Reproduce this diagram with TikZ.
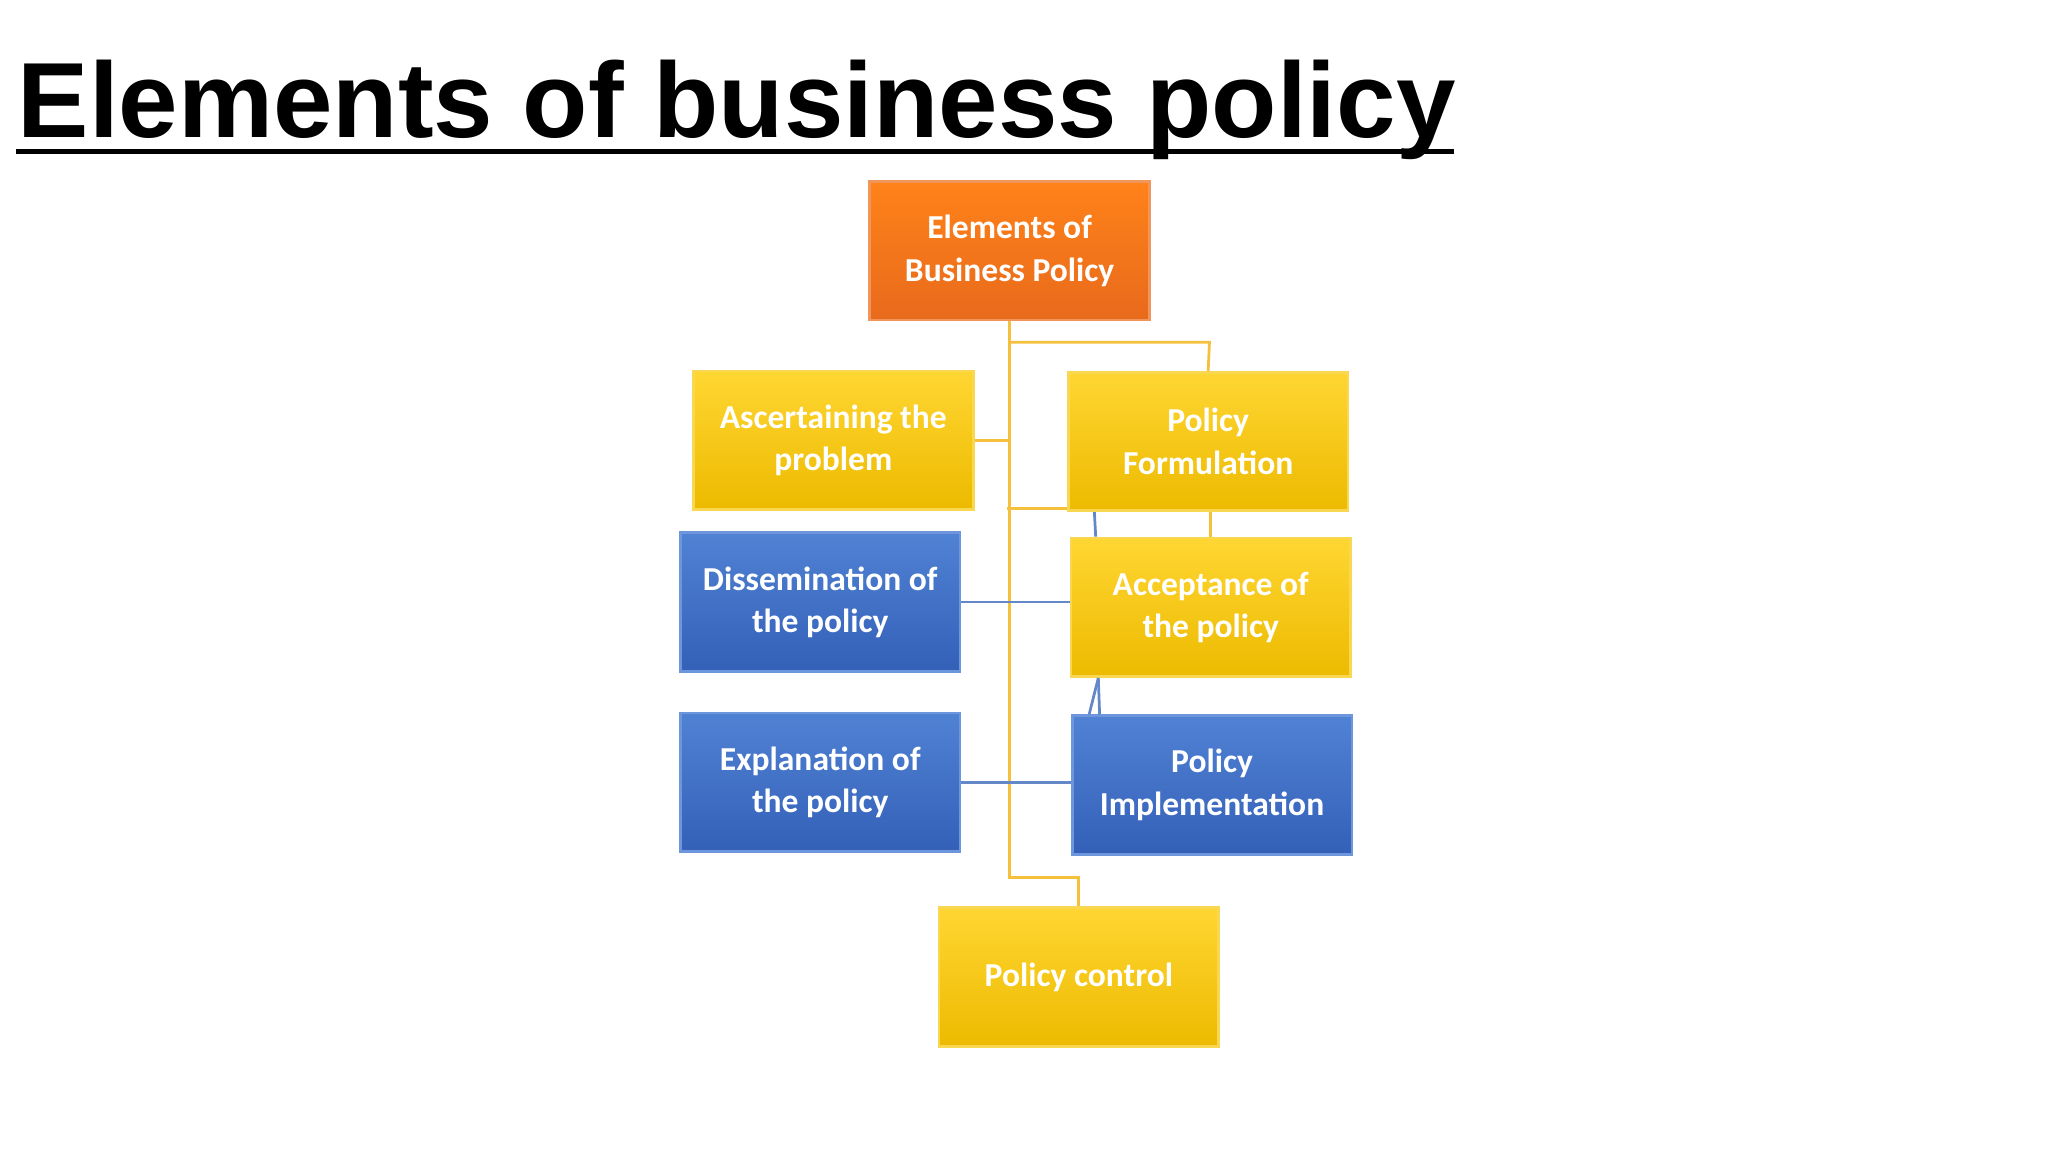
\documentclass[tikz,border=0pt]{standalone}
\usepackage{fontspec}
\setmainfont{Carlito}
\newfontfamily\titlefont{Liberation Sans}
\begin{document}
\begin{tikzpicture}[x=0.01cm,y=-0.01cm,
  box/.style={minimum width=2.14cm,minimum height=1.06cm,inner sep=0pt,align=center,text=white,
    font=\fontsize{7.3}{9.2}\selectfont\bfseries},
  org/.style={box,top color=orange!55!red!20!orange!90!white,bottom color={rgb,255:red,232;green,106;blue,28},draw={rgb,255:red,240;green,150;blue,90},line width=0.6pt},
  yel/.style={box,top color={rgb,255:red,255;green,214;blue,50},bottom color={rgb,255:red,236;green,186;blue,0},draw={rgb,255:red,250;green,215;blue,80},line width=0.6pt},
  blu/.style={box,top color={rgb,255:red,80;green,130;blue,212},bottom color={rgb,255:red,52;green,96;blue,184},draw={rgb,255:red,110;green,150;blue,220},line width=0.6pt},
  yl/.style={draw={rgb,255:red,245;green,192;blue,60},line width=0.6pt},
  bl/.style={draw={rgb,255:red,100;green,135;blue,200},line width=0.6pt}]
\useasboundingbox (0,0) rectangle (1568,882);
\node[anchor=base west,inner sep=0pt] (title) at (13,105) {\resizebox{11cm}{!}{\titlefont\bfseries Elements of business policy}};
\draw[line width=1.1pt] (12,116) -- (1113,116);
% connectors
\coordinate (c1) at (773,262); \coordinate (c2) at (926,262);
\coordinate (c3) at (773,672); \coordinate (c4) at (826,672);
\node[org] (top) at (773,192) {Elements of\\Business Policy};
\node[yel] (asc) at (638,337) {Ascertaining the\\problem};
\node[yel] (form) at (925,338) {Policy\\Formulation};
\node[blu] (dis) at (628,461) {Dissemination of\\the policy};
\node[yel] (acc) at (927,465) {Acceptance of\\the policy};
\node[blu] (exp) at (628,599) {Explanation of\\the policy};
\node[blu] (impl) at (928,601) {Policy\\Implementation};
\node[yel] (ctl) at (826,748) {Policy control};
\begin{scope}[on background layer/.style={}]
\end{scope}
\draw[yl] (top.south) -- (c3) -- (c4) -- (ctl.north);
\draw[yl] (c1) -- (c2) -- (form.north);
\draw[yl] (asc.east) -- (asc.east -| top.south);
\draw[yl] (form.south west) ++(0,-3) -- ++(-46,0);
\draw[yl] (form.south -| acc.north) -- (acc.north);
\draw[bl] (dis.east) -- (dis.east -| acc.west);
\draw[bl] (exp.east) -- (exp.east -| impl.west);
\draw[bl] ([xshift=0.21cm]form.south west) -- ([xshift=0.2cm]acc.north west);
\draw[bl] ([xshift=0.22cm]acc.south west) -- ([xshift=0.22cm]impl.north west);
\draw[bl] ([xshift=0.22cm]acc.south west) -- ([xshift=0.14cm]impl.north west);
\end{tikzpicture}
\end{document}
